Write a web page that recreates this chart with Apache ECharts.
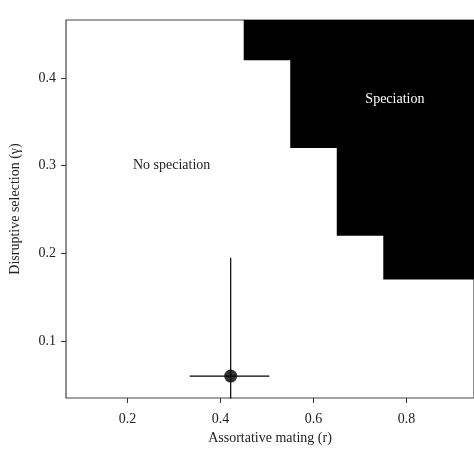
<!DOCTYPE html>
<html><head><meta charset="utf-8">
<script src="https://cdn.jsdelivr.net/npm/echarts@6/dist/echarts.min.js"></script>
<style>html,body{margin:0;padding:0;background:#fff}#c{width:474px;height:474px}</style>
</head><body><div id="c"></div>
<script>
var dom = document.getElementById("c");
var myChart = echarts.init(dom);

// speciation region: step edges [r from, r to, gamma lower bound]
var stepStarts = [0.45, 0.55, 0.65, 0.75];
var stepEnds = [0.55, 0.65, 0.75, 0.95];
var stepLows = [0.42, 0.32, 0.22, 0.17];
var point = [0.422, 0.06];
var errX = [0.334, 0.505];
var errY = [0.0, 0.195];
var xTicks = [0.2, 0.4, 0.6, 0.8];
var yTicks = [0.1, 0.2, 0.3, 0.4];

var font = "Liberation Serif";
var rects = stepStarts.map(function (s, i) { return [s, stepEnds[i], stepLows[i]]; });

option = {
    animation: false,
    grid: { left: 57, right: -10, top: 20, bottom: 76, show: true, borderColor: '#444', borderWidth: 1.2 },
    xAxis: {
        type: 'value', min: 0.068, max: 0.945,
        name: 'Assortative mating (r)', nameLocation: 'middle', nameGap: 32,
        nameTextStyle: { fontFamily: font, fontSize: 14, color: '#222' },
        axisLine: { show: false },
        axisTick: { show: true, length: 5, lineStyle: { color: '#333' }, customValues: xTicks },
        axisLabel: { fontFamily: font, fontSize: 14, color: '#222', margin: 14, customValues: xTicks,
            formatter: function (v) { return v.toFixed(1); } },
        splitLine: { show: false }
    },
    yAxis: {
        type: 'value', min: 0.035, max: 0.466,
        name: 'Disruptive selection (γ)', nameLocation: 'middle', nameGap: 44,
        nameTextStyle: { fontFamily: font, fontSize: 14, color: '#222' },
        axisLine: { show: false },
        axisTick: { show: true, length: 5, lineStyle: { color: '#333' }, customValues: yTicks },
        axisLabel: { fontFamily: font, fontSize: 14, color: '#222', margin: 10, customValues: yTicks,
            formatter: function (v) { return v.toFixed(1); } },
        splitLine: { show: false }
    },
    series: [
        {
            type: 'custom',
            data: rects,
            renderItem: function (params, api) {
                var a = api.coord([api.value(0), 0.466]);
                var b = api.coord([api.value(1), api.value(2)]);
                return { type: 'rect', shape: { x: a[0], y: a[1], width: b[0] - a[0] + 1, height: b[1] - a[1] },
                    style: { fill: '#000' } };
            },
            clip: true, z: 1
        },
        {
            type: 'line', symbol: 'none', lineStyle: { color: '#000', width: 1.2 },
            data: [[errX[0], point[1]], [errX[1], point[1]]], z: 3
        },
        {
            type: 'line', symbol: 'none', lineStyle: { color: '#000', width: 1.2 },
            data: [[point[0], errY[0]], [point[0], errY[1]]], z: 3
        },
        {
            type: 'scatter', symbolSize: 13, itemStyle: { color: '#000' },
            data: [point], z: 4,
            markPoint: {
                symbol: 'rect', symbolSize: 1, itemStyle: { color: 'transparent' },
                data: [
                    { coord: [0.295, 0.3], label: { show: true, formatter: 'No speciation', fontFamily: font, fontSize: 14, color: '#222' } },
                    { coord: [0.775, 0.375], label: { show: true, formatter: 'Speciation', fontFamily: font, fontSize: 14, color: '#fff' } }
                ]
            }
        }
    ]
};

if (option && typeof option === "object") {
    myChart.setOption(option, true);
}
</script></body></html>
